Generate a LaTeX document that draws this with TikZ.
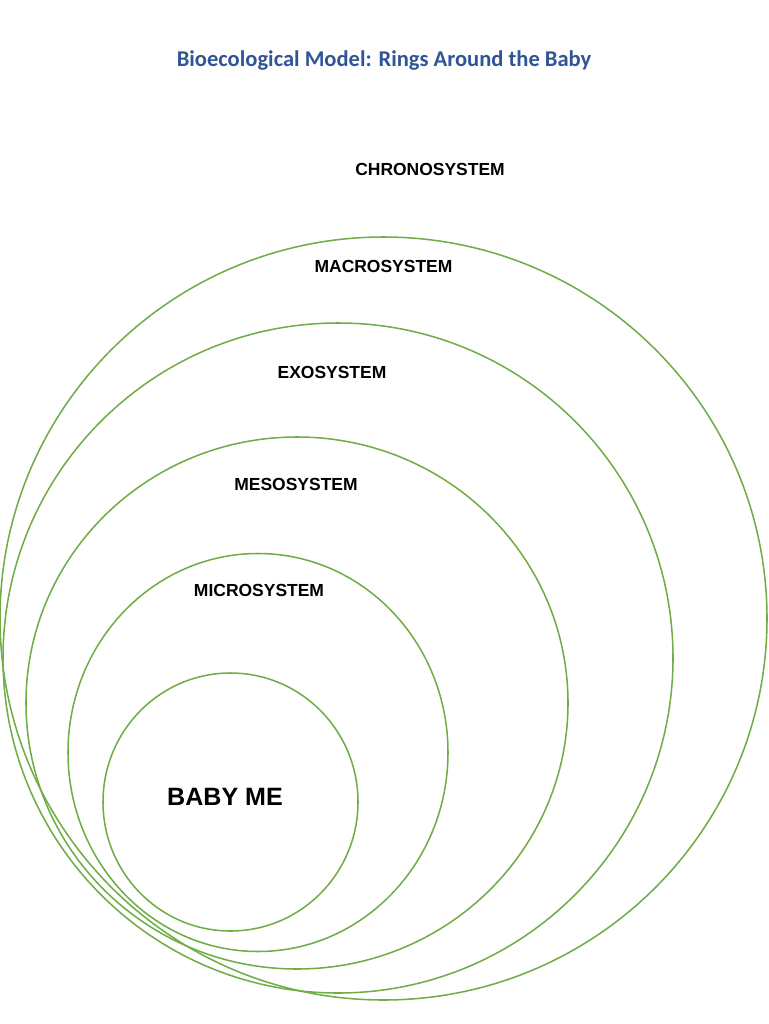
\documentclass[tikz,border=0pt]{standalone}
\usepackage{fontspec}
\setmainfont{Liberation Sans}
\newfontfamily\titlefont{Carlito}
\definecolor{ringgreen}{HTML}{70AD47}
\definecolor{titleblue}{HTML}{2F5597}
\begin{document}
\begin{tikzpicture}[x=0.75pt,y=-0.75pt,
  ring/.style={draw=ringgreen,line width=1.15pt},
  lab/.style={font=\fontsize{13.1}{15}\selectfont\bfseries,inner sep=0pt,anchor=center},
  ttl/.style={font=\titlefont\fontsize{16.9}{20}\selectfont\bfseries,text=titleblue,inner sep=0pt,anchor=center}]
\useasboundingbox (0,0) rectangle (768,1024);
% rings
\draw[ring] (383.5,618.5) ellipse [x radius=383.5*0.75pt, y radius=381.5*0.75pt];
\draw[ring] (338,658) ellipse [x radius=335*0.75pt, y radius=335*0.75pt];
\draw[ring] (297,703) ellipse [x radius=271*0.75pt, y radius=266*0.75pt];
\draw[ring] (258,752.5) ellipse [x radius=190*0.75pt, y radius=199*0.75pt];
\draw[ring] (230.5,802) ellipse [x radius=127.5*0.75pt, y radius=129*0.75pt];
% texts
\node[ttl] (title) at (384,61) {Bioecological Model: Rings Around the Baby};
\node[lab] (chrono) at (430,169) {CHRONOSYSTEM};
\node[lab] (macro) at (383.5,266) {MACROSYSTEM};
\node[lab] (exo) at (332,372) {EXOSYSTEM};
\node[lab] (meso) at (296,484) {MESOSYSTEM};
\node[lab] (micro) at (259,590) {MICROSYSTEM};
\node[lab,font=\fontsize{18.8}{22}\selectfont\bfseries] (baby) at (225,797) {BABY ME};
\end{tikzpicture}
\end{document}
